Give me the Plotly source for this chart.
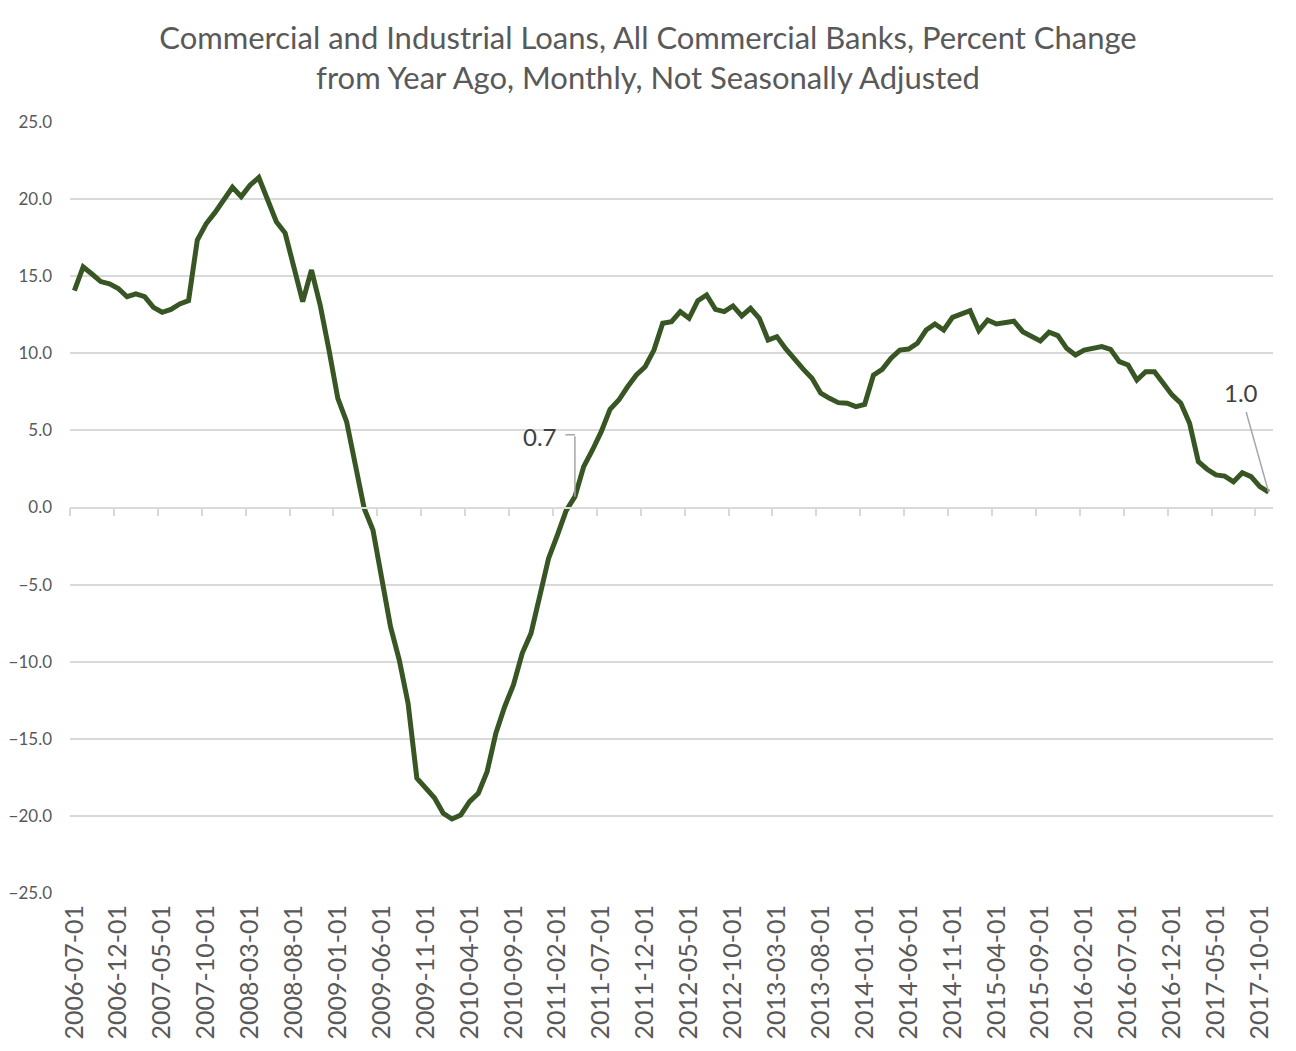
import plotly.graph_objects as go
import pandas as pd

dates = pd.date_range("2006-07-01", "2017-11-01", freq="MS").strftime("%Y-%m-%d").tolist()

values = [
    14.06, 15.6, 15.14, 14.65, 14.5, 14.2, 13.67, 13.85, 13.67, 12.98,
    12.66, 12.85, 13.2, 13.41, 17.35, 18.4, 19.12, 19.94, 20.77, 20.16,
    20.9, 21.4, 19.9, 18.53, 17.8, 15.6, 13.35, 15.4, 13.1, 10.2,
    7.08, 5.57, 2.65, -0.05, -1.46, -4.6, -7.73, -9.89, -12.7, -17.56,
    -18.15, -18.82, -19.83, -20.2, -19.94, -19.08, -18.53, -17.13, -14.64, -12.92,
    -11.5, -9.45, -8.16, -5.56, -3.3, -1.8, -0.2, 0.7, 2.65, 3.73,
    4.92, 6.37, 6.97, 7.83, 8.59, 9.13, 10.21, 11.95, 12.05, 12.70,
    12.27, 13.41, 13.78, 12.85, 12.70, 13.07, 12.42, 12.92, 12.27, 10.86,
    11.08, 10.3, 9.57, 8.97, 8.38, 7.41, 7.08, 6.80, 6.76, 6.54,
    6.69, 8.59, 8.96, 9.68, 10.21, 10.28, 10.65, 11.51, 11.9, 11.51,
    12.33, 12.53, 12.76, 11.47, 12.16, 11.9, 11.95, 12.08, 11.4, 11.06,
    10.8, 11.37, 11.15, 10.32, 9.89, 10.21, 10.36, 10.43, 10.26, 9.46,
    9.24, 8.27, 8.81, 8.81, 8.05, 7.30, 6.76, 5.46, 2.97, 2.48,
    2.11, 2.04, 1.67, 2.26, 2.0, 1.35, 1.0,
]

y_ticks = [25, 20, 15, 10, 5, 0, -5, -10, -15, -20, -25]
label_step = 5
labeled_points = {"0.7": 57, "1.0": len(values) - 1}

n = len(values)
idx = list(range(n))
tick_idx = list(range(0, n, label_step))
tick_text = [dates[i] for i in tick_idx]
boundaries = [i - 0.5 for i in tick_idx]

GREEN = "#375623"
GRID = "#d9d9d9"
TXT = "#595959"
FONT = "Lato, Open Sans, sans-serif"

fig = go.Figure()
fig.add_trace(go.Scatter(
    x=idx, y=values, mode="lines",
    line=dict(color=GREEN, width=5),
    showlegend=False, hoverinfo="x+y",
))
# helper (invisible) trace so the zero-line tick axis is rendered
fig.add_trace(go.Scatter(
    x=idx, y=values, mode="lines", xaxis="x2",
    line=dict(color="rgba(0,0,0,0)", width=0),
    showlegend=False, hoverinfo="skip",
))

xr = [-0.5, n - 0.5]
fig.update_layout(
    width=1296, height=1051,
    margin=dict(l=70, r=23, t=122, b=158),
    paper_bgcolor="white", plot_bgcolor="white",
    font=dict(family=FONT, color=TXT),
    title=dict(
        text="Commercial and Industrial Loans, All Commercial Banks, Percent Change<br>from Year Ago, Monthly, Not Seasonally Adjusted",
        x=0.5, xref="container", xanchor="center",
        y=1 - 49 / 1051, yref="container", yanchor="middle",
        font=dict(family=FONT, size=31, color=TXT),
    ),
    xaxis=dict(
        range=xr, tickmode="array", tickvals=tick_idx, ticktext=tick_text,
        tickangle=-90, ticks="", showgrid=False, zeroline=False, showline=False,
        tickfont=dict(size=25, color=TXT, family=FONT),
        ticklabelstandoff=6, automargin=False,
    ),
    xaxis2=dict(
        range=xr, overlaying="x", anchor="free", position=0.5,
        tickmode="array", tickvals=boundaries, showticklabels=False,
        ticks="outside", ticklen=8, tickwidth=1.5, tickcolor=GRID,
        showline=True, linecolor=GRID, linewidth=1.5,
        showgrid=False, zeroline=False, automargin=False,
    ),
    yaxis=dict(
        range=[-25, 25], tickmode="array", tickvals=y_ticks,
        tickformat=".1f", showgrid=True, gridcolor=GRID, gridwidth=1.5,
        zeroline=False, showline=False, ticks="",
        tickfont=dict(size=17, color=TXT, family=FONT),
        ticklabelstandoff=17, automargin=False,
    ),
)

ARROW = "#a6a6a6"
LBL = "#404040"
p07 = labeled_points["0.7"]
# elbow leader for 0.7
fig.add_annotation(x=p07, y=values[p07], text="", showarrow=True, arrowhead=0,
                   arrowwidth=1.5, arrowcolor=ARROW, ax=0, ay=-62)
fig.add_annotation(x=p07, y=values[p07], yshift=62, text="", showarrow=True, arrowhead=0,
                   arrowwidth=1.5, arrowcolor=ARROW, ax=-11, ay=0)
fig.add_annotation(x=p07, y=values[p07], xshift=-16, yshift=60, text="0.7",
                   showarrow=False, xanchor="right", yanchor="middle",
                   font=dict(size=24, color=LBL, family=FONT))
p10 = labeled_points["1.0"]
fig.add_annotation(x=p10, y=values[p10], text="1.0", showarrow=True, arrowhead=0,
                   arrowwidth=1.5, arrowcolor=ARROW, ax=-28, ay=-100, startstandoff=4,
                   font=dict(size=24, color=LBL, family=FONT))

fig.write_html("out.html")
